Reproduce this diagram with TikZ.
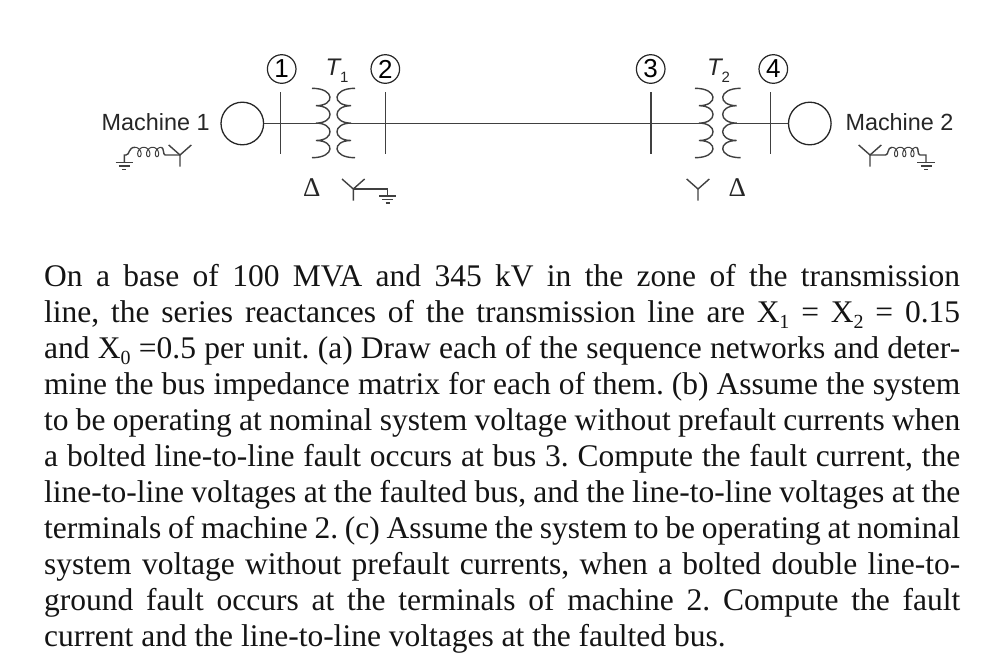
\documentclass[tikz,border=0pt]{standalone}
\usepackage{fontspec}
\setmainfont{Liberation Serif}
\newfontfamily\sansf{Liberation Sans}
\newcommand{\sbs}[1]{\raisebox{-0.2em}{\fontsize{20}{20}\selectfont #1}}
\newcommand{\tl}[3]{\node[txt] (#1) at (44,#2) {\makebox[916pt][s]{#3}};}
\frenchspacing
\tikzset{
  x=1pt,y=-1pt,
  wire/.style={line width=1.4pt,draw=black!75},
  busnum/.style={circle,draw=black!85,line width=1.2pt,minimum size=28.6pt,inner sep=0pt,font=\sansf\fontsize{26}{26}\selectfont},
  machine/.style={circle,draw=black!85,line width=1.3pt,minimum size=42.6pt,inner sep=0pt},
  slabel/.style={inner sep=0pt,font=\sansf\fontsize{23.4}{24}\selectfont,text=black!85},
  tname/.style={inner sep=0pt,font=\sansf\itshape\fontsize{24}{24}\selectfont,text=black!85},
  dlabel/.style={inner sep=0pt,font=\fontsize{27}{27}\selectfont,text=black!85},
  txt/.style={anchor=base west,inner sep=0pt,font=\fontsize{31.5}{36}\selectfont,text=black!92},
  pics/coilb/.style={code={
    \draw[wire] (0,0) .. controls (23.3,0) and (23.3,17.4) .. (4,17.4)
      .. controls (22.7,17.4) and (22.7,34.8) .. (4,34.8)
      .. controls (22.7,34.8) and (22.7,52.2) .. (4,52.2)
      .. controls (23.3,52.2) and (23.3,69.4) .. (0,69.4);
  }},
  pics/wye/.style={code={
    \draw[wire] (-11.3,-10) -- (0,0) -- (11.3,-10) (0,0) -- (0,11.7);
  }},
  pics/gnd/.style={code={
    \draw[wire] (-8.7,0) -- (8.7,0) (-5.5,3.4) -- (5.5,3.4) (-2,6.8) -- (2,6.8);
  }},
  pics/loops/.style={code={
    \draw[wire,line width=1pt,smooth,samples=120,domain=0:1080,variable=\t]
      plot ({1.4*\t*3.14159/180 + 3.6*sin(\t)},{4.7*(1-cos(\t))});
  }}
}
\begin{document}
\begin{tikzpicture}
\useasboundingbox (0,0) rectangle (996,662);
% machines
\node[machine] (m1) at (242.3,123.5) {};
\node[machine] (m2) at (809.8,123.5) {};
% buses
\coordinate (b1t) at (280.7,92.3); \coordinate (b1b) at (280.7,154);
\coordinate (b2t) at (385.2,92.3); \coordinate (b2b) at (385.2,154);
\coordinate (b3t) at (651,92.3);   \coordinate (b3b) at (651,154);
\coordinate (b4t) at (770.7,92.3); \coordinate (b4b) at (770.7,154);
\draw[wire] (b1t) -- (b1b) (b2t) -- (b2b) (b3t) -- (b3b) (b4t) -- (b4b);
% transformer windings
\pic at (312,88.3) {coilb};
\pic[xscale=-1] at (355,88.3) {coilb};
\pic at (695,88.3) {coilb};
\pic[xscale=-1] at (740.7,88.3) {coilb};
\coordinate (t1l) at (316,123.5); \coordinate (t1r) at (351,123.5);
\coordinate (t2l) at (699,123.5); \coordinate (t2r) at (736.7,123.5);
\draw[wire] (m1) -- (t1l);
\draw[wire] (t1r) -- (t2l);
\draw[wire] (t2r) -- (m2);
% labels
\node[busnum] (n1) at (281.7,69) {1};
\node[busnum] (n2) at (385.3,69) {2};
\node[busnum] (n3) at (650.7,69) {3};
\node[busnum] (n4) at (773.3,69) {4};
\node[tname] (T1) at (337,70.5) {T\raisebox{-0.3em}{\upshape\fontsize{15}{15}\selectfont 1}};
\node[tname] (T2) at (718.5,70.5) {T\raisebox{-0.3em}{\upshape\fontsize{15}{15}\selectfont 2}};
\node[slabel] (M1) at (155.6,122) {Machine 1};
\node[slabel] (M2) at (899.5,122) {Machine 2};
\node[dlabel] (d1) at (311.7,188) {Δ};
\node[dlabel] (d2) at (737.3,188) {Δ};
% machine 1 grounding
\pic at (180,155) {wye};
\pic at (135,147.3) {loops};
\coordinate (g1a) at (124.3,155); \coordinate (g1b) at (124.3,162.5);
\pic at (124.3,162.5) {gnd};
\draw[wire] (180,155) -- (165,155) .. controls (163,155) and (164,147.3) .. (161.4,147.3);
\draw[wire] (g1b) -- (g1a) -- (126,155) .. controls (130,155) and (128,147.3) .. (135,147.3);
% T1 wye
\pic at (353.3,189) {wye};
\coordinate (ty) at (353.3,189); \coordinate (tc) at (387.7,189); \coordinate (tg) at (387.7,196);
\draw[wire] (ty) -- (tc) -- (tg);
\pic at (387.7,196) {gnd};
% T2 wye
\pic at (698,189) {wye};
% machine 2 grounding
\pic[xscale=0.93] at (892,147.3) {loops};
\pic at (870,155) {wye};
\draw[wire] (870,155) -- (885.5,155) .. controls (889,155) and (887,147.3) .. (892,147.3);
\draw[wire] (916.5,147.3) .. controls (919,147.3) and (917,155) .. (920,155) -- (926,155) -- (926,162.5);
\pic at (926,162.5) {gnd};
% text
\tl{l1}{286}{On a base of 100 MVA and 345 kV in the zone of the transmission}
\tl{l2}{322}{line, the series reactances of the transmission line are X\sbs{1} = X\sbs{2} = 0.15}
\tl{l3}{358}{and X\sbs{0} =0.5 per unit. (a) Draw each of the sequence networks and deter-}
\tl{l4}{394}{mine the bus impedance matrix for each of them. (b) Assume the system}
\tl{l5}{430}{to be operating at nominal system voltage without prefault currents when}
\tl{l6}{466}{a bolted line-to-line fault occurs at bus 3. Compute the fault current, the}
\tl{l7}{502}{line-to-line voltages at the faulted bus, and the line-to-line voltages at the}
\tl{l8}{538}{terminals of machine 2. (c) Assume the system to be operating at nominal}
\tl{l9}{574}{system voltage without prefault currents, when a bolted double line-to-}
\tl{l10}{610}{ground fault occurs at the terminals of machine 2. Compute the fault}
\node[txt] (l11) at (44,646) {current and the line-to-line voltages at the faulted bus.};
\end{tikzpicture}
\end{document}
